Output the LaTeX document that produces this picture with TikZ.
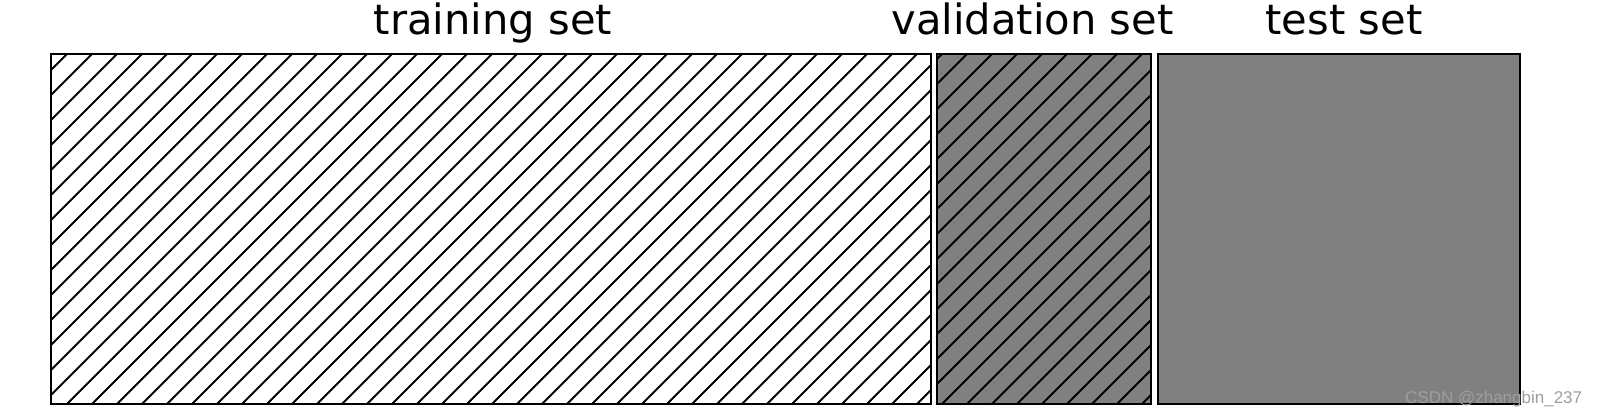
\documentclass[tikz,border=0pt]{standalone}
\usepackage{fontspec}
\setmainfont{DejaVu Sans}
\newfontfamily\markfont{Liberation Sans}
% diagonal hatch clipped to one part
\newcommand\hatchpart[1]{%
  \begin{scope}
    \clip (#1.south west) rectangle (#1.north east);
    \foreach \d in {-397,-372,...,1553} \draw[hatchline] (\d,0) -- ++(430,430);
  \end{scope}}
\begin{document}
\begin{tikzpicture}[x=1pt, y=1pt,
  part/.style={draw,line width=2pt,minimum height=349pt,inner sep=0pt,outer sep=0pt},
  hatchline/.style={line width=2pt},
  title/.style={font=\fontsize{41.67}{50}\selectfont,inner sep=0pt,anchor=base}]
\useasboundingbox (0,0) rectangle (1598,418);
\node[part,fill=white,minimum width=879.5pt] (train) at (490.75,189) {};
\node[part,fill=gray,minimum width=214.5pt] (valid) at (1043.75,189) {};
\node[part,fill=gray,minimum width=361.5pt] (test) at (1338.75,189) {};
\hatchpart{train}
\hatchpart{valid}
\node[title] (traintitle) at (493,383) {training set};
\node[title] (validtitle) at (1032.5,383) {validation set};
\node[title] (testtitle) at (1344,383) {test set};
% watermark
\node[font=\markfont\fontsize{17}{20}\selectfont,text=black!38,anchor=base west,inner sep=0pt] (mark) at (1405,15) {CSDN @zhangbin\_237};
\end{tikzpicture}
\end{document}
